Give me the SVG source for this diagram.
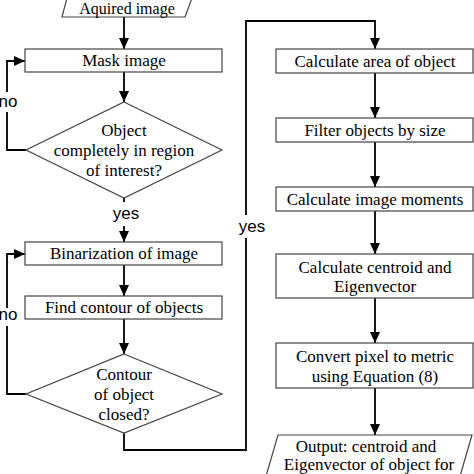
<svg xmlns="http://www.w3.org/2000/svg" width="474" height="474" viewBox="0 0 474 474">
<style>
.box{fill:#fff;stroke:#444;stroke-width:1.2}
.t{font-family:"Liberation Serif","Times New Roman",serif;font-size:17px;fill:#000;text-anchor:middle}
.lbl{font-family:"Liberation Sans",Arial,sans-serif;font-size:17px;fill:#000;text-anchor:middle}
.c{fill:none;stroke:#000;stroke-width:1.8}
</style>
<defs>
<marker id="ah" markerUnits="userSpaceOnUse" markerWidth="11" markerHeight="10" refX="11" refY="5" orient="auto">
<path d="M0,0 L11,5 L0,10 z" fill="#000"/>
</marker>
</defs>
<rect width="474" height="474" fill="#fff"/>
<g id="connectors">
<path class="c" d="M124,17 V49" marker-end="url(#ah)"/>
<path class="c" d="M124,72 V102" marker-end="url(#ah)"/>
<path class="c" d="M26,150 H7 V112"/>
<path class="c" d="M7,92 V61 H25" marker-end="url(#ah)"/>
<path class="c" d="M124,198 V202"/>
<path class="c" d="M124,226 V242" marker-end="url(#ah)"/>
<path class="c" d="M124,265 V296" marker-end="url(#ah)"/>
<path class="c" d="M124,319 V354" marker-end="url(#ah)"/>
<path class="c" d="M26,394 H7 V326"/>
<path class="c" d="M7,308 V254 H25" marker-end="url(#ah)"/>
<path class="c" d="M124,433 V450 H246 V238"/>
<path class="c" d="M246,215 V21 H375 V49" marker-end="url(#ah)"/>
<path class="c" d="M375,73 V118" marker-end="url(#ah)"/>
<path class="c" d="M375,142 V187" marker-end="url(#ah)"/>
<path class="c" d="M375,211 V254" marker-end="url(#ah)"/>
<path class="c" d="M375,298 V343" marker-end="url(#ah)"/>
<path class="c" d="M375,388 V435" marker-end="url(#ah)"/>
<text class="lbl" x="8" y="107">no</text>
<text class="lbl" x="8" y="320">no</text>
<text class="lbl" x="126" y="219">yes</text>
<text class="lbl" x="252" y="232">yes</text>
</g>
<g id="input">
<polygon class="box" points="67,-2 192,-2 185,17 62,17"/>
<text class="t" x="127" y="13.5" style="font-size:16px">Aquired image</text>
</g>
<g id="mask">
<rect class="box" x="25" y="49" width="197" height="23"/>
<text class="t" x="124" y="66">Mask image</text>
</g>
<g id="roi">
<polygon class="box" points="124,102 222,150 124,198 26,150"/>
<text class="t" x="124" y="136">Object</text>
<text class="t" x="124" y="156">completely in region</text>
<text class="t" x="124" y="176">of interest?</text>
</g>
<g id="binarize">
<rect class="box" x="25" y="242" width="197" height="23"/>
<text class="t" x="124" y="259">Binarization of image</text>
</g>
<g id="contour">
<rect class="box" x="25" y="296" width="197" height="23"/>
<text class="t" x="124" y="313">Find contour of objects</text>
</g>
<g id="closed">
<polygon class="box" points="124,354 222,394 124,433 26,394"/>
<text class="t" x="124" y="380">Contour</text>
<text class="t" x="124" y="400">of object</text>
<text class="t" x="124" y="420">closed?</text>
</g>
<g id="area">
<rect class="box" x="276" y="49" width="197" height="24"/>
<text class="t" x="375" y="66.5">Calculate area of object</text>
</g>
<g id="filter">
<rect class="box" x="276" y="118" width="197" height="24"/>
<text class="t" x="375" y="135.5">Filter objects by size</text>
</g>
<g id="moments">
<rect class="box" x="276" y="187" width="197" height="24"/>
<text class="t" x="375" y="204.5">Calculate image moments</text>
</g>
<g id="centroid">
<rect class="box" x="276" y="254" width="197" height="44"/>
<text class="t" x="375" y="272.5">Calculate centroid and</text>
<text class="t" x="375" y="292">Eigenvector</text>
</g>
<g id="convert">
<rect class="box" x="276" y="343" width="197" height="45"/>
<text class="t" x="375" y="361.5">Convert pixel to metric</text>
<text class="t" x="375" y="381.5">using Equation (8)</text>
</g>
<g id="output">
<polygon class="box" points="278,435 472,435 456,490 262,490"/>
<text class="t" x="366" y="452">Output: centroid and</text>
<text class="t" x="369" y="470">Eigenvector of object for</text>
</g>
</svg>
